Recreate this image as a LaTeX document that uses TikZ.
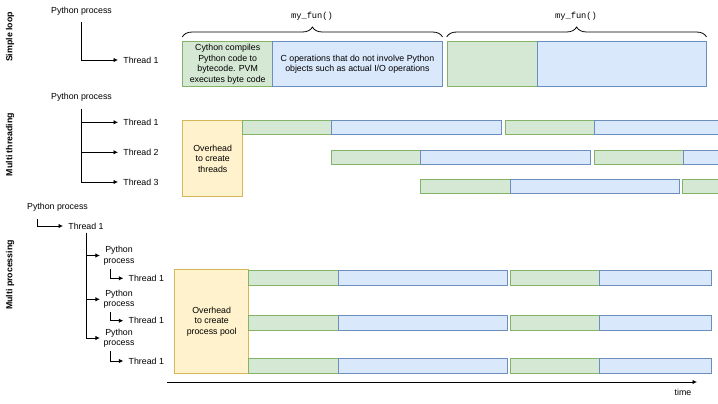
\documentclass[tikz,border=0pt]{standalone}
\usepackage{fontspec}
\setmainfont{Liberation Sans}
\setmonofont{Liberation Mono}
\usetikzlibrary{arrows.meta,decorations.pathreplacing}

\definecolor{gfill}{HTML}{D5E8D4}
\definecolor{gline}{HTML}{82B366}
\definecolor{bfill}{HTML}{DAE8FC}
\definecolor{bline}{HTML}{6C8EBF}
\definecolor{yfill}{HTML}{FFF2CC}
\definecolor{yline}{HTML}{D6B656}

\tikzset{
  gbar/.style={fill=gfill, draw=gline},
  bbar/.style={fill=bfill, draw=bline},
  gbox/.style={gbar, align=center, anchor=north west, inner sep=0pt, minimum height=45pt},
  bbox/.style={bbar, align=center, anchor=north west, inner sep=0pt, minimum height=45pt},
  ovh/.style={fill=yfill, draw=yline, align=center, anchor=north west, inner sep=0pt},
  thr/.style={anchor=west, inner xsep=5pt, inner ysep=1pt},
  tip/.style={-{Latex[length=4.5pt,width=4.5pt]}},
  sect/.style={rotate=90, font=\fontsize{8.8}{10.5}\selectfont\bfseries},
  brc/.style={decorate, decoration={brace, amplitude=10pt}},
}

\begin{document}
\begin{tikzpicture}[x=1pt, y=-1pt, line width=0.8pt,
  font=\fontsize{8.8}{10.5}\selectfont]
\clip (0,0) rectangle (718,404);

% simple loop
\node[sect] (sl) at (10,37) {Simple loop};
\node (pp1) at (81.5,11) {Python process};
\node[thr] (sl_t1) at (118,60) {Thread 1};
\draw[tip, shorten <=3pt] (pp1.south) |- (sl_t1.west);

\node[gbox, minimum width=90pt] (cyth) at (182.3,41.5) {Cython compiles\\Python code to\\bytecode. PVM\\executes byte code};
\node[bbox, minimum width=169.4pt] (cops) at (272.3,41.5) {C operations that do not involve Python\\objects such as actual I/O operations};
\node[gbox, minimum width=90pt] (cyth2) at (446.7,41.5) {};
\node[bbox, minimum width=169pt] (cops2) at (536.7,41.5) {};

\draw[brc] ([yshift=4.5pt]cyth.north west) -- ([yshift=4.5pt]cops.north east);
\draw[brc] ([yshift=4.5pt]cyth2.north west) -- ([yshift=4.5pt]cops2.north east);
\node (fn1) at (312,16) {\ttfamily\fontsize{8.7}{10}\selectfont my\_fun()};
\node (fn2) at (576,16) {\ttfamily\fontsize{8.7}{10}\selectfont my\_fun()};

% multi threading
\node[sect] (mt) at (10,144.5) {Multi threading};
\node (pp2) at (81.5,97) {Python process};
\node[thr] (mt_t1) at (118,122.3) {Thread 1};
\node[thr] (mt_t2) at (118,152.3) {Thread 2};
\node[thr] (mt_t3) at (118,182) {Thread 3};
\draw[tip, shorten <=4pt] (pp2.south) |- (mt_t3.west);
\draw[tip] (pp2.south |- mt_t1.west) -- (mt_t1.west);
\draw[tip] (pp2.south |- mt_t2.west) -- (mt_t2.west);

\node[ovh, minimum width=60pt, minimum height=76pt] (ovh1) at (182.3,120) {Overhead\\to create\\threads};

\draw[gbar] (242.3,120) rectangle (331.7,134.3);
\draw[bbar] (331.7,120) rectangle (501.7,134.3);
\draw[gbar] (505,120) rectangle (594.3,134.3);
\draw[bbar] (594.3,120) rectangle (722,134.3);

\draw[gbar] (331.7,150) rectangle (420,164.3);
\draw[bbar] (420,150) rectangle (590,164.3);
\draw[gbar] (594.3,150) rectangle (683.3,164.3);
\draw[bbar] (683.3,150) rectangle (722,164.3);

\draw[gbar] (420.7,179) rectangle (510,193.3);
\draw[bbar] (510,179) rectangle (679.3,193.3);
\draw[gbar] (682.7,179) rectangle (722,193.3);

% multi processing
\node[sect] (mp) at (10,275) {Multi processing};
\node (pp3) at (57.5,207) {Python process};
\node[thr] (mp_t1) at (63,226) {Thread 1};
\coordinate (pp3_e) at (37.3,219);
\draw[tip] (pp3_e) |- (mp_t1.west);

\node[align=center] (pp_a) at (119,255.5) {Python\\process};
\node[align=center] (pp_b) at (119,299.3) {Python\\process};
\node[align=center] (pp_c) at (119,338) {Python\\process};
\draw[tip, shorten <=2pt] (mp_t1.south) |- (pp_c.west);
\draw[tip] (mp_t1.south |- pp_a.west) -- (pp_a.west);
\draw[tip] (mp_t1.south |- pp_b.west) -- (pp_b.west);

\node[thr] (pa_t1) at (123.3,278.3) {Thread 1};
\node[thr] (pb_t1) at (123.3,320.7) {Thread 1};
\node[thr] (pc_t1) at (123.3,361) {Thread 1};
\draw[tip] ([xshift=11pt]pp_a.south west) |- (pa_t1.west);
\draw[tip] ([xshift=11pt]pp_b.south west) |- (pb_t1.west);
\draw[tip] ([xshift=11pt]pp_c.south west) |- (pc_t1.west);

\node[ovh, minimum width=74pt, minimum height=104.3pt] (ovh2) at (174.3,269) {Overhead\\to create\\process pool};

\foreach \y in {270,315.5,358.3} {
  \draw[gbar] (248.3,\y) rectangle (338.3,\y+15);
  \draw[bbar] (338.3,\y) rectangle (507.7,\y+15);
  \draw[gbar] (510,\y) rectangle (599.3,\y+15);
  \draw[bbar] (599.3,\y) rectangle (711.7,\y+15);
}

% time axis
\coordinate (t0) at (167,382);
\coordinate (t1) at (697,382);
\draw[tip] (t0) -- (t1);
\node (tl) at (683,392) {time};
\end{tikzpicture}
\end{document}
